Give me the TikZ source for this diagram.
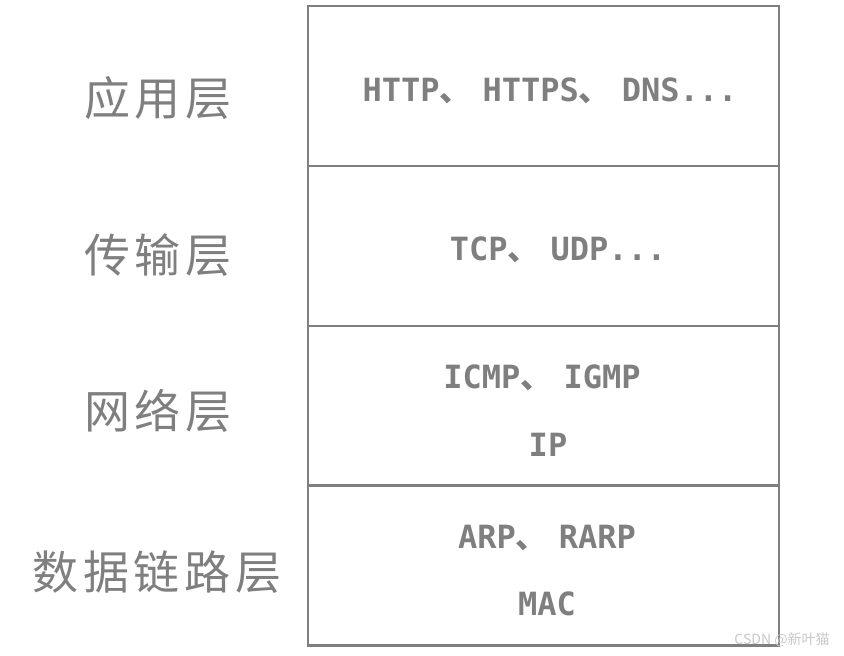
\documentclass[tikz,border=0pt]{standalone}
\usepackage{xcolor}
\usepackage{fontspec}
\newfontfamily\cjk{Noto Sans CJK SC}
\newfontfamily\cjkwide[LetterSpace=10]{Noto Sans CJK SC}
\newfontfamily\protofont{DejaVu Sans Mono}
\newcommand{\dunhao}{{\cjk 、}\kern11pt}
\definecolor{layergray}{HTML}{7F7F7F}
\definecolor{markgray}{HTML}{C8C8C8}

\begin{document}
\begin{tikzpicture}[x=1pt,y=-1pt,
		layerbox/.style={draw=layergray, line width=2.5pt, minimum width=471pt, minimum height=160pt, inner sep=0pt},
		layername/.style={text=layergray, font=\cjkwide\fontsize{46}{46}\selectfont},
		proto/.style={text=layergray, font=\protofont\bfseries\fontsize{32}{32}\selectfont}]
			% We will draw the four layers here
			\useasboundingbox (0,0) rectangle (844,656);
			
			\node[layerbox] (app) at (543.5,86) {};
			\node[layerbox] (trans) at (543.5,246) {};
			\node[layerbox] (net) at (543.5,406) {};
			\node[layerbox] (link) at (543.5,565.5) {};
			
			% layer names on the left
			\node[layername] (appname) at (158,98) {应用层};
			\node[layername] (transname) at (158,255) {传输层};
			\node[layername] (netname) at (158,411) {网络层};
			\node[layername] (linkname) at (157,572) {数据链路层};
			
			% protocols in each layer
			\node[proto] (appproto) at (550,91) {HTTP\dunhao HTTPS\dunhao DNS...};
			\node[proto] (transproto) at (558,250) {TCP\dunhao UDP...};
			\node[proto] (icmp) at (542,378) {ICMP\dunhao IGMP};
			\node[proto] (ip) at (548,445) {IP};
			\node[proto] (arp) at (547,538) {ARP\dunhao RARP};
			\node[proto] (mac) at (547,604) {MAC};
			
			\node[text=markgray, font=\cjk\fontsize{14}{14}\selectfont] (mark) at (782,640) {CSDN @新叶猫};
			
		\end{tikzpicture}
\end{document}
